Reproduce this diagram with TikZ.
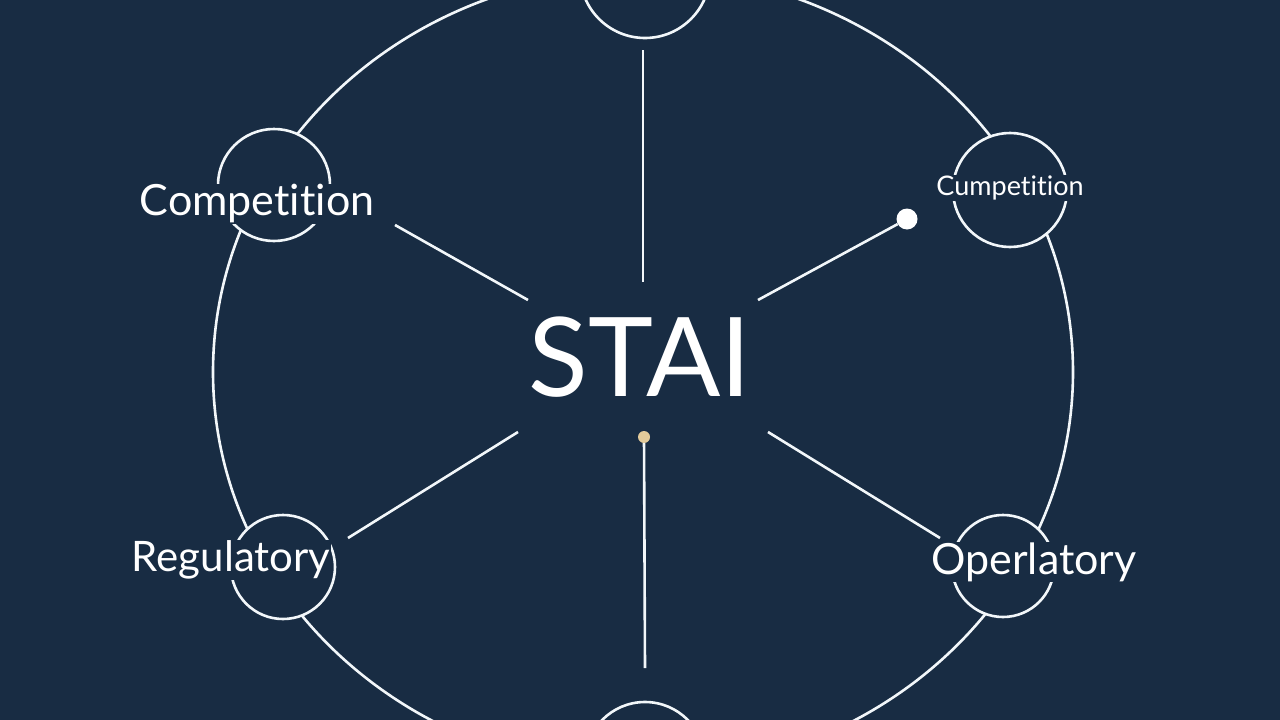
\documentclass[tikz,border=0pt]{standalone}
\usepackage{fontspec}
\setmainfont{Lato}[Ligatures=NoCommon]
\definecolor{bg}{HTML}{182C43}
\definecolor{ln}{HTML}{F2F7FA}
\definecolor{tan}{HTML}{E3CB9B}
\begin{document}
\begin{tikzpicture}[x=1pt,y=-1pt,
  wire/.style={draw=ln,line width=2.6pt},
  hub/.style={circle,draw=ln,line width=2.6pt,fill=bg,inner sep=0pt},
  lbl/.style={text=white,fill=bg,inner sep=0.5pt},
]
\fill[bg] (0,0) rectangle (1280,720);
\useasboundingbox (0,0) rectangle (1280,720);
% outer ring
\draw[wire] (643,372) ellipse [x radius=430pt, y radius=400pt];
% small circles
\node[hub,minimum size=130pt] (top) at (645,-27) {};
\node[hub,minimum size=112pt] (tl) at (274,185) {};
\node[hub,minimum size=114pt] (tr) at (1010,190) {};
\node[hub,minimum size=104pt] (bl) at (283,567) {};
\node[hub,minimum size=102pt] (br) at (1003,566) {};
\node[hub,minimum size=120pt] (bot) at (645,762) {};
% labels
\node[lbl,font=\fontsize{43}{43}\selectfont] (ltl) at (257,204) {Competition};
\node[lbl,font=\fontsize{27}{27}\selectfont] (ltr) at (1010,188) {Cumpetition};
\node[lbl,font=\fontsize{42}{42}\selectfont] (lbl) at (231,560) {Regulatory};
\node[lbl,font=\fontsize{43}{43}\selectfont] (lbr) at (1034,562) {Operlatory};
\node[text=white,font=\fontsize{110}{110}\selectfont] (stai) at (640,357) {STAI};
% spoke ends
\coordinate (s1a) at (643,50);   \coordinate (s1b) at (643,282);
\coordinate (s2a) at (395,225);  \coordinate (s2b) at (528,300);
\coordinate (s3a) at (758,300);
\coordinate (s4a) at (518,432);  \coordinate (s4b) at (348,538);
\coordinate (s5a) at (768,432);  \coordinate (s5b) at (940,538);
\coordinate (s6b) at (645,668);
\node[circle,fill=white,minimum size=21pt,inner sep=0pt] (wdot) at (907,219) {};
\node[circle,fill=tan,minimum size=12pt,inner sep=0pt] (tdot) at (644,437) {};
\draw[wire] (s1a) -- (s1b);
\draw[wire] (s2a) -- (s2b);
\draw[wire] (s3a) -- (wdot);
\draw[wire] (s4a) -- (s4b);
\draw[wire] (s5a) -- (s5b);
\draw[wire] (tdot) -- (s6b);
\end{tikzpicture}
\end{document}
